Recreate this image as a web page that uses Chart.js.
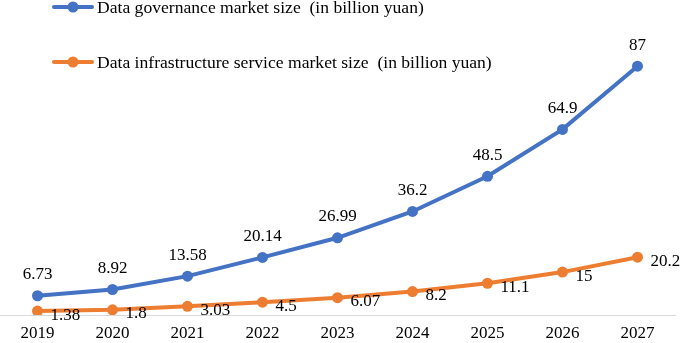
<!DOCTYPE html>
<html>
<head>
<meta charset="utf-8">
<script src="https://cdn.jsdelivr.net/npm/chart.js@4"></script>
<style>
  html, body { margin: 0; padding: 0; background: #fff; }
  #box { width: 685px; height: 343px; }
</style>
</head>
<body>
<div id="box"><canvas id="grafico"></canvas></div>
<script>
// Dados
const anos = ['2019', '2020', '2021', '2022', '2023', '2024', '2025', '2026', '2027'];
const governanca = [6.73, 8.92, 13.58, 20.14, 26.99, 36.2, 48.5, 64.9, 87];
const infraestrutura = [1.38, 1.8, 3.03, 4.5, 6.07, 8.2, 11.1, 15, 20.2];
const rotulosGov = ['6.73', '8.92', '13.58', '20.14', '26.99', '36.2', '48.5', '64.9', '87'];
const rotulosInfra = ['1.38', '1.8', '3.03', '4.5', '6.07', '8.2', '11.1', '15', '20.2'];
const nomes = [
    'Data governance market size  (in billion yuan)',
    'Data infrastructure service market size  (in billion yuan)'
];

const azul = '#4472C4';
const laranja = '#ED7D31';
const fonte = "'Liberation Serif', 'Times New Roman', serif";

// Rótulos dos pontos e legenda desenhados à mão
const extras = {
    id: 'extras',
    afterDatasetsDraw(chart) {
        const c = chart.ctx;
        c.save();
        c.font = '17px ' + fonte;
        c.fillStyle = '#000';
        // azul: acima do ponto
        chart.getDatasetMeta(0).data.forEach((p, i) => {
            c.textAlign = 'center';
            c.textBaseline = 'middle';
            c.fillText(rotulosGov[i], p.x, p.y - 21);
        });
        // laranja: à direita do ponto
        chart.getDatasetMeta(1).data.forEach((p, i) => {
            c.textAlign = 'left';
            c.textBaseline = 'middle';
            c.fillText(rotulosInfra[i], p.x + 13, p.y + 4);
        });

        // legenda
        c.font = '17.6px ' + fonte;
        [[azul, 7], [laranja, 62]].forEach(([cor, y], k) => {
            c.strokeStyle = cor;
            c.lineWidth = 4;
            c.lineCap = 'round';
            c.beginPath();
            c.moveTo(54, y);
            c.lineTo(92, y);
            c.stroke();
            c.fillStyle = cor;
            c.beginPath();
            c.arc(73, y, 5.5, 0, Math.PI * 2);
            c.fill();
            c.fillStyle = '#000';
            c.textAlign = 'left';
            c.textBaseline = 'middle';
            c.fillText(nomes[k], 97, y + 1);
        });
        c.restore();
    }
};

const ctx = document.getElementById('grafico').getContext('2d');
new Chart(ctx, {
    type: 'line',
    data: {
        labels: anos,
        datasets: [{
            label: nomes[0],
            data: governanca,
            borderColor: azul,
            backgroundColor: azul,
            borderWidth: 4,
            pointRadius: 5.5,
            pointBorderWidth: 0,
            pointBackgroundColor: azul
        }, {
            label: nomes[1],
            data: infraestrutura,
            borderColor: laranja,
            backgroundColor: laranja,
            borderWidth: 4,
            pointRadius: 5.5,
            pointBorderWidth: 0,
            pointBackgroundColor: laranja
        }]
    },
    options: {
        responsive: true,
        maintainAspectRatio: false,
        animation: false,
        layout: { autoPadding: false, padding: { top: 29, right: 10, left: 0, bottom: 0 } },
        plugins: {
            legend: { display: false },
            tooltip: { enabled: false }
        },
        scales: {
            x: {
                offset: true,
                grid: { display: false, drawTicks: false },
                border: { display: true, color: '#d9d9d9', width: 1 },
                ticks: { color: '#000', padding: 8, font: { family: fonte, size: 17 } },
                afterFit(escala) { escala.height = 28; } // altura fixa do eixo x
            },
            y: {
                display: false,
                min: 0,
                max: 100
            }
        }
    },
    plugins: [extras]
});
</script>
</body>
</html>
